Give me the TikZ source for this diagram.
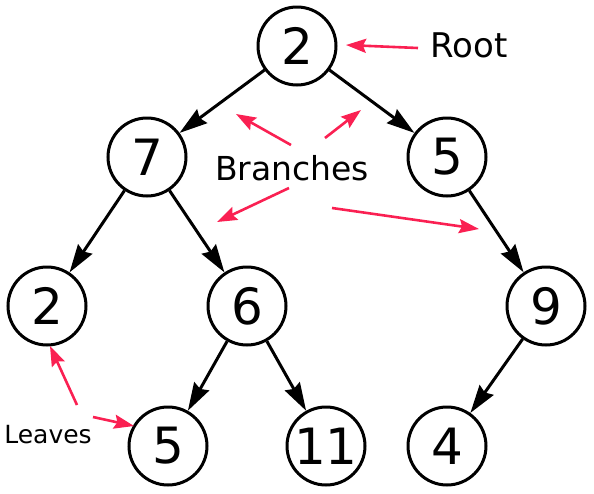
\documentclass[tikz,border=0pt]{standalone}
\usepackage{fontspec}
\setmainfont{DejaVu Sans}
\usetikzlibrary{arrows.meta}
\definecolor{lblred}{RGB}{250,32,82}
\tikzset{
  tnode/.style={circle,draw=black,line width=3pt,minimum size=78pt,inner sep=0pt,font=\fontsize{50}{60}\selectfont},
  tedge/.style={line width=3pt,-{Stealth[length=28pt 0,width=17pt 0,inset=3pt]}},
  redarrow/.style={line width=2.6pt,draw=lblred,-{Stealth[length=20pt 0,width=14pt 0,inset=3pt]}},
  lbl/.style={anchor=base,inner sep=0pt}
}
\begin{document}
\begin{tikzpicture}[x=1pt,y=-1pt]
\useasboundingbox (0,0) rectangle (594,493);
\node[tnode] (r) at (297,46) {2};
\node[tnode] (a) at (147,157) {7};
\node[tnode] (b) at (447,157) {5};
\node[tnode] (c) at (47,306) {2};
\node[tnode] (d) at (247,306) {6};
\node[tnode] (e) at (546,306) {9};
\node[tnode] (f) at (168,446) {5};
\node[tnode] (g) at (326,446) {11};
\node[tnode] (h) at (447,446) {4};
\draw[tedge] (r) -- (a);
\draw[tedge] (r) -- (b);
\draw[tedge] (a) -- (c);
\draw[tedge] (a) -- (d);
\draw[tedge] (b) -- (e);
\draw[tedge] (d) -- (f);
\draw[tedge] (d) -- (g);
\draw[tedge] (e) -- (h);
\node[lbl,font=\fontsize{34}{40}\selectfont] (root) at (469,57) {Root};
\node[lbl,font=\fontsize{33}{40}\selectfont] (br) at (292,180) {Branches};
\node[lbl,font=\fontsize{25}{30}\selectfont] (lv) at (48,443) {Leaves};
\coordinate (rt) at (418,48);
\coordinate (rh) at (346,45);
\draw[redarrow] (rt) -- (rh);
\coordinate (b1t) at (291,145); \coordinate (b1h) at (236,114);
\coordinate (b2t) at (325,138); \coordinate (b2h) at (361,110);
\coordinate (b3t) at (289,188); \coordinate (b3h) at (217,222);
\coordinate (b4t) at (332,208); \coordinate (b4h) at (479,229);
\draw[redarrow] (b1t) -- (b1h);
\draw[redarrow] (b2t) -- (b2h);
\draw[redarrow] (b3t) -- (b3h);
\draw[redarrow] (b4t) -- (b4h);
\coordinate (l1t) at (77,405); \coordinate (l1h) at (50,346);
\coordinate (l2t) at (93,417); \coordinate (l2h) at (134,426);
\draw[redarrow] (l1t) -- (l1h);
\draw[redarrow] (l2t) -- (l2h);
\end{tikzpicture}
\end{document}
